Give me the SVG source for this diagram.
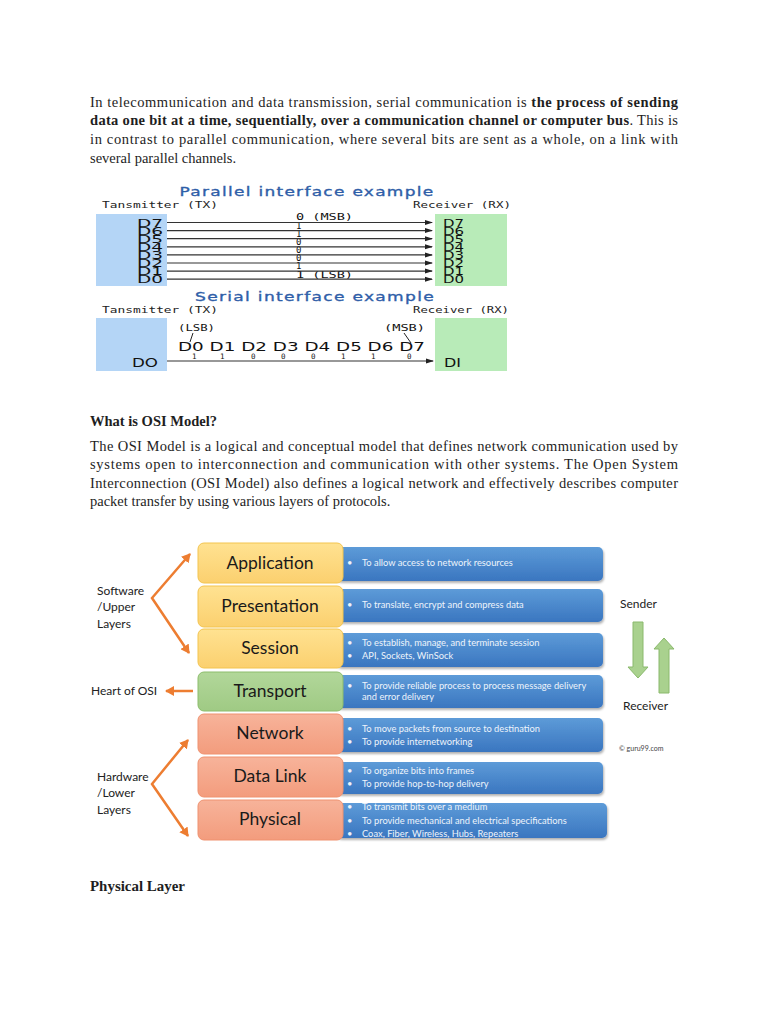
<svg xmlns="http://www.w3.org/2000/svg" width="768" height="1024" viewBox="0 0 768 1024">
<style>
.body{font-family:"Liberation Serif",serif;font-size:14.5px;fill:#1e1e1e}
.b{font-weight:bold}
.ttl{font-family:"DejaVu Sans",sans-serif;font-size:13px;fill:#2f5ea8;stroke:#2f5ea8;stroke-width:0.35;letter-spacing:1px}
.sm{font-family:"DejaVu Sans Mono",monospace;font-size:9px;fill:#222}
.dl{font-family:"DejaVu Sans",sans-serif;font-size:11px;fill:#111}
.ds{font-family:"DejaVu Sans",sans-serif;font-size:12px;fill:#111}
.bit{font-family:"DejaVu Sans Mono",monospace;font-size:9px;fill:#111}
.sbit{font-family:"DejaVu Sans Mono",monospace;font-size:7.5px;fill:#111}
.lay{font-family:Lato,"Open Sans",sans-serif;font-size:17.5px;fill:#1a1a1a;text-anchor:middle}
.desc{font-family:Lato,"Open Sans",sans-serif;font-size:9.3px;fill:#eef4fb}
.side{font-family:Lato,"Open Sans",sans-serif;font-size:12px;fill:#222}
.conn{stroke:#ed7d31;stroke-width:2.5;fill:none}
.wire{stroke:#333;stroke-width:1.2;fill:none}
.yel{fill:url(#gy);stroke:#f3c44f;stroke-width:1}
.grn{fill:url(#gg);stroke:#8cbd6c;stroke-width:1}
.org{fill:url(#go);stroke:#ef9270;stroke-width:1}
.blu{fill:url(#gb);filter:url(#sh)}
.garr{fill:#a9d18e;stroke:#8ab96c;stroke-width:1}
</style>
<defs>
<linearGradient id="gy" x1="0" y1="0" x2="0" y2="1"><stop offset="0" stop-color="#ffe291"/><stop offset="1" stop-color="#fbd06f"/></linearGradient>
<linearGradient id="gg" x1="0" y1="0" x2="0" y2="1"><stop offset="0" stop-color="#b2d79a"/><stop offset="1" stop-color="#9fca84"/></linearGradient>
<linearGradient id="go" x1="0" y1="0" x2="0" y2="1"><stop offset="0" stop-color="#f7b39a"/><stop offset="1" stop-color="#f39c7d"/></linearGradient>
<linearGradient id="gb" x1="0" y1="0" x2="0" y2="1"><stop offset="0" stop-color="#5d9bd8"/><stop offset="1" stop-color="#3a76c0"/></linearGradient>
<filter id="sh" x="-5%" y="-20%" width="110%" height="150%"><feDropShadow dx="1" dy="2" stdDeviation="1.2" flood-color="#000" flood-opacity="0.3"/></filter>
<marker id="oa" markerWidth="10" markerHeight="10" refX="8" refY="5" orient="auto-start-reverse" markerUnits="userSpaceOnUse"><path d="M0,0 L9,5 L0,10 z" fill="#ed7d31"/></marker>
<marker id="ba" markerWidth="8" markerHeight="6" refX="7" refY="3" orient="auto" markerUnits="userSpaceOnUse"><path d="M0,0.5 L8,3 L0,5.5 z" fill="#222"/></marker>
</defs>
<rect width="768" height="1024" fill="#fff"/>

<g id="para1" class="body">
<text x="90" y="107" textLength="588" lengthAdjust="spacing">In telecommunication and data transmission, serial communication is <tspan class="b">the process of sending</tspan></text>
<text x="90" y="125" textLength="588" lengthAdjust="spacing"><tspan class="b">data one bit at a time, sequentially, over a communication channel or computer bus</tspan>. This is</text>
<text x="90" y="144" textLength="588" lengthAdjust="spacing">in contrast to parallel communication, where several bits are sent as a whole, on a link with</text>
<text x="90" y="163">several parallel channels.</text>
</g>

<g id="parallel">
<text class="ttl" x="307" y="196" text-anchor="middle" textLength="255" lengthAdjust="spacingAndGlyphs">Parallel interface example</text>
<text class="sm" x="102" y="208" textLength="116" lengthAdjust="spacingAndGlyphs">Tansmitter (TX)</text>
<text class="sm" x="413" y="208" textLength="98" lengthAdjust="spacingAndGlyphs">Receiver (RX)</text>
<rect x="96" y="214" width="71" height="72" fill="#b4d5f6"/>
<rect x="435" y="214" width="72" height="72" fill="#b8ebb8"/>
<g class="dl">
<text x="137" y="226.5" textLength="26" lengthAdjust="spacingAndGlyphs">D7</text>
<text x="137" y="234.6" textLength="26" lengthAdjust="spacingAndGlyphs">D6</text>
<text x="137" y="242.7" textLength="26" lengthAdjust="spacingAndGlyphs">D5</text>
<text x="137" y="250.8" textLength="26" lengthAdjust="spacingAndGlyphs">D4</text>
<text x="137" y="258.9" textLength="26" lengthAdjust="spacingAndGlyphs">D3</text>
<text x="137" y="267" textLength="26" lengthAdjust="spacingAndGlyphs">D2</text>
<text x="137" y="275.1" textLength="26" lengthAdjust="spacingAndGlyphs">D1</text>
<text x="137" y="283.2" textLength="26" lengthAdjust="spacingAndGlyphs">D0</text>
<text x="443" y="226.5" textLength="21" lengthAdjust="spacingAndGlyphs">D7</text>
<text x="443" y="234.6" textLength="21" lengthAdjust="spacingAndGlyphs">D6</text>
<text x="443" y="242.7" textLength="21" lengthAdjust="spacingAndGlyphs">D5</text>
<text x="443" y="250.8" textLength="21" lengthAdjust="spacingAndGlyphs">D4</text>
<text x="443" y="258.9" textLength="21" lengthAdjust="spacingAndGlyphs">D3</text>
<text x="443" y="267" textLength="21" lengthAdjust="spacingAndGlyphs">D2</text>
<text x="443" y="275.1" textLength="21" lengthAdjust="spacingAndGlyphs">D1</text>
<text x="443" y="283.2" textLength="21" lengthAdjust="spacingAndGlyphs">D0</text>
</g>
<g class="bit">
<text x="296" y="220" textLength="57" lengthAdjust="spacingAndGlyphs">0 (MSB)</text>
<text x="296" y="229">1</text>
<text x="296" y="237">1</text>
<text x="296" y="245">0</text>
<text x="296" y="253">0</text>
<text x="296" y="261">0</text>
<text x="296" y="269">1</text>
<text x="296" y="277.5" textLength="57" lengthAdjust="spacingAndGlyphs">1 (LSB)</text>
</g>
</g>

<g id="serial">
<text class="ttl" x="315" y="301" text-anchor="middle" textLength="240" lengthAdjust="spacingAndGlyphs">Serial interface example</text>
<text class="sm" x="102" y="313" textLength="116" lengthAdjust="spacingAndGlyphs">Tansmitter (TX)</text>
<text class="sm" x="413" y="313" textLength="96" lengthAdjust="spacingAndGlyphs">Receiver (RX)</text>
<rect x="96" y="318" width="71" height="53" fill="#b4d5f6"/>
<rect x="435" y="318" width="72" height="53" fill="#b8ebb8"/>
<text class="bit" x="178" y="331" textLength="37" lengthAdjust="spacingAndGlyphs">(LSB)</text>
<text class="bit" x="384" y="331" textLength="41" lengthAdjust="spacingAndGlyphs">(MSB)</text>
<path d="M193,333 L190,342 M404,333 L411,343" stroke="#222" stroke-width="1" fill="none"/>
<text class="ds" x="178" y="351" textLength="247" lengthAdjust="spacingAndGlyphs">D0 D1 D2 D3 D4 D5 D6 D7</text>
<g class="sbit">
<text x="192" y="359">1</text><text x="220" y="359">1</text><text x="251" y="359">0</text><text x="281" y="359">0</text>
<text x="311" y="359">0</text><text x="341" y="359">1</text><text x="371" y="359">1</text><text x="407" y="359">0</text>
</g>
<text class="ds" x="132" y="367" textLength="26" lengthAdjust="spacingAndGlyphs">DO</text>
<text class="ds" x="444" y="367" textLength="17" lengthAdjust="spacingAndGlyphs">DI</text>
</g>

<g id="para2" class="body">
<text class="b" x="90" y="426" textLength="127" lengthAdjust="spacingAndGlyphs">What is OSI Model?</text>
<text x="90" y="451" textLength="588" lengthAdjust="spacing">The OSI Model is a logical and conceptual model that defines network communication used by</text>
<text x="90" y="469" textLength="588" lengthAdjust="spacing">systems open to interconnection and communication with other systems. The Open System</text>
<text x="90" y="488" textLength="588" lengthAdjust="spacing">Interconnection (OSI Model) also defines a logical network and effectively describes computer</text>
<text x="90" y="506">packet transfer by using various layers of protocols.</text>
</g>

<g id="desc-boxes">
<rect class="blu" x="336" y="547" width="267" height="34" rx="5"/>
<rect class="blu" x="336" y="589" width="267" height="33" rx="5"/>
<rect class="blu" x="336" y="633" width="267" height="34" rx="5"/>
<rect class="blu" x="336" y="675" width="267" height="33" rx="5"/>
<rect class="blu" x="336" y="718" width="267" height="34" rx="5"/>
<rect class="blu" x="336" y="762" width="267" height="32" rx="5"/>
<rect class="blu" x="336" y="803" width="271" height="35" rx="5"/>
</g>

<g id="application"><rect class="yel" x="198" y="543" width="145" height="40" rx="6"/><text class="lay" x="270" y="569">Application</text></g>
<g id="presentation"><rect class="yel" x="198" y="586" width="145" height="41" rx="6"/><text class="lay" x="270" y="612">Presentation</text></g>
<g id="session"><rect class="yel" x="198" y="629" width="145" height="39" rx="6"/><text class="lay" x="270" y="654">Session</text></g>
<g id="transport"><rect class="grn" x="198" y="672" width="145" height="39" rx="6"/><text class="lay" x="270" y="697">Transport</text></g>
<g id="network"><rect class="org" x="198" y="714" width="145" height="40" rx="6"/><text class="lay" x="270" y="739">Network</text></g>
<g id="datalink"><rect class="org" x="198" y="757" width="145" height="40" rx="6"/><text class="lay" x="270" y="782">Data Link</text></g>
<g id="physical"><rect class="org" x="198" y="800" width="145" height="40" rx="6"/><text class="lay" x="270" y="825">Physical</text></g>

<g id="desc-text" class="desc">
<text x="347" y="566">•</text><text x="362" y="566">To allow access to network resources</text>
<text x="347" y="608">•</text><text x="362" y="608">To translate, encrypt and compress data</text>
<text x="347" y="646">•</text><text x="362" y="646">To establish, manage, and terminate session</text>
<text x="347" y="659">•</text><text x="362" y="659">API, Sockets, WinSock</text>
<text x="347" y="689">•</text><text x="362" y="689">To provide reliable process to process message delivery</text>
<text x="362" y="700">and error delivery</text>
<text x="347" y="732">•</text><text x="362" y="732">To move packets from source to destination</text>
<text x="347" y="745">•</text><text x="362" y="745">To provide internetworking</text>
<text x="347" y="774">•</text><text x="362" y="774">To organize bits into frames</text>
<text x="347" y="787">•</text><text x="362" y="787">To provide hop-to-hop delivery</text>
<text x="347" y="810">•</text><text x="362" y="810">To transmit bits over a medium</text>
<text x="347" y="824">•</text><text x="362" y="824">To provide mechanical and electrical specifications</text>
<text x="347" y="837">•</text><text x="362" y="837">Coax, Fiber, Wireless, Hubs, Repeaters</text>
</g>

<g id="software-label" class="side">
<text x="97" y="595">Software</text><text x="97" y="611">/Upper</text><text x="97" y="628">Layers</text>
</g>
<g id="heart-label" class="side"><text x="91" y="695">Heart of OSI</text></g>
<g id="hardware-label" class="side">
<text x="97" y="781">Hardware</text><text x="97" y="797">/Lower</text><text x="97" y="814">Layers</text>
</g>

<g id="sender-receiver">
<text class="side" x="620" y="608">Sender</text>
<polygon class="garr" points="633,622 643,622 643,667 648,667 638,678 628,667 633,667"/>
<polygon class="garr" points="659,693 669,693 669,649 674,649 664,638 654,649 659,649"/>
<text class="side" x="623" y="710">Receiver</text>
<text x="619" y="751" style="font-family:Lato,sans-serif;font-size:7px;fill:#444">© guru99.com</text>
</g>

<g id="connectors">
<line class="wire" x1="167" y1="222.5" x2="432" y2="222.5" marker-end="url(#ba)"/>
<line class="wire" x1="167" y1="230.6" x2="432" y2="230.6" marker-end="url(#ba)"/>
<line class="wire" x1="167" y1="238.7" x2="432" y2="238.7" marker-end="url(#ba)"/>
<line class="wire" x1="167" y1="246.8" x2="432" y2="246.8" marker-end="url(#ba)"/>
<line class="wire" x1="167" y1="254.9" x2="432" y2="254.9" marker-end="url(#ba)"/>
<line class="wire" x1="167" y1="263" x2="432" y2="263" marker-end="url(#ba)"/>
<line class="wire" x1="167" y1="271.1" x2="432" y2="271.1" marker-end="url(#ba)"/>
<line class="wire" x1="167" y1="279.2" x2="432" y2="279.2" marker-end="url(#ba)"/>
<line class="wire" x1="167" y1="361" x2="433" y2="361" marker-end="url(#ba)"/>
<path class="conn" d="M190,554 L152,598 L189,653" marker-start="url(#oa)" marker-end="url(#oa)"/>
<line class="conn" x1="193" y1="691" x2="166" y2="691" marker-end="url(#oa)"/>
<path class="conn" d="M188,740 L152,784 L188,836" marker-start="url(#oa)" marker-end="url(#oa)"/>
</g>

<g id="heading3" class="body"><text class="b" x="90" y="891" textLength="95" lengthAdjust="spacingAndGlyphs">Physical Layer</text></g>
</svg>
